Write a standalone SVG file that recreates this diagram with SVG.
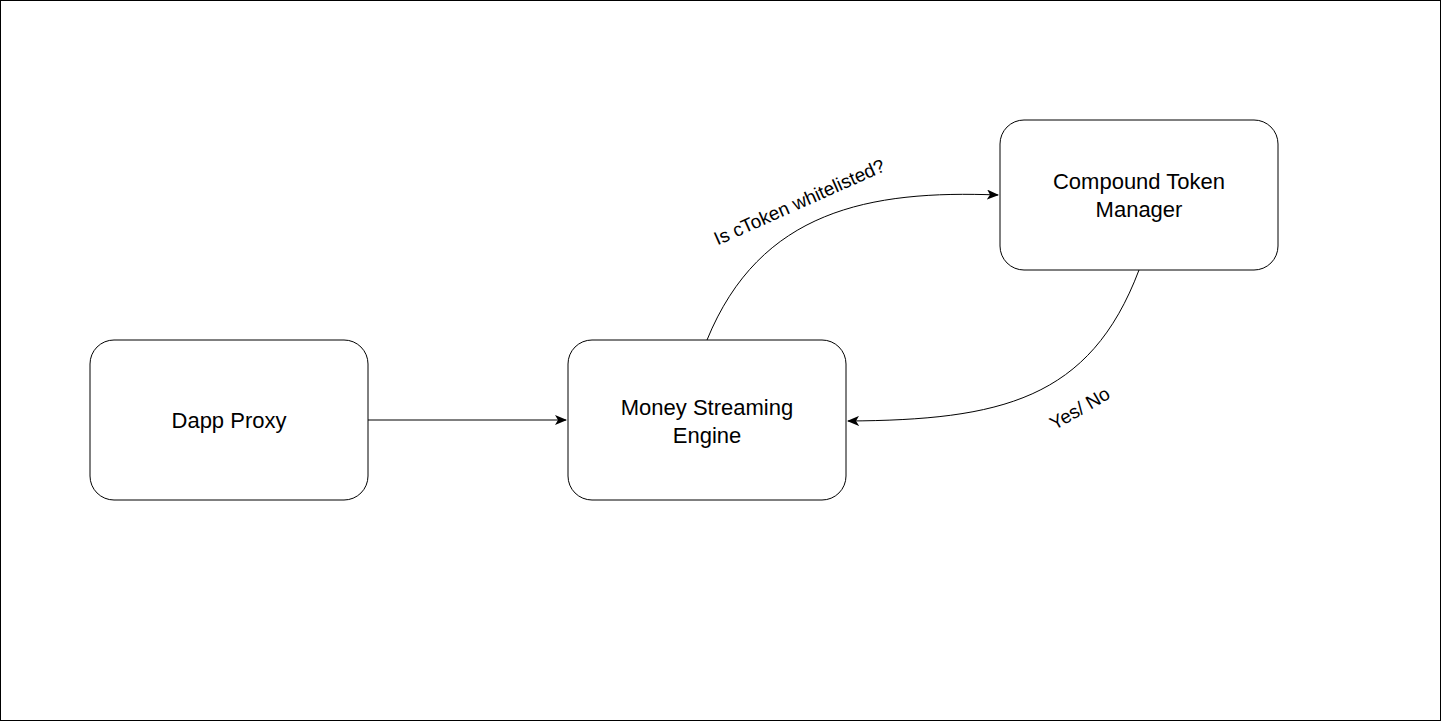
<svg xmlns="http://www.w3.org/2000/svg" width="1441" height="721" viewBox="0 0 1441 721">
<style>
.n{fill:#fff;stroke:#000;stroke-width:1}
.t{font-family:"Liberation Sans",Arial,sans-serif;font-size:22px;fill:#000;text-anchor:middle}
.l{font-family:"Liberation Sans",Arial,sans-serif;font-size:19px;fill:#000;text-anchor:middle}
.c{fill:none;stroke:#000;stroke-width:1}
</style>
<defs><marker id="a" markerWidth="12" markerHeight="10" refX="11" refY="5" orient="auto" markerUnits="userSpaceOnUse"><path d="M0,0 L12,5 L0,10 L3,5 Z" fill="#000"/></marker></defs>
<rect x="0.5" y="0.5" width="1440" height="720" fill="#fff" stroke="#000"/>
<g id="dapp"><rect class="n" x="90" y="340" width="278" height="160" rx="24"/><text class="t" x="229" y="428">Dapp Proxy</text></g>
<g id="mse"><rect class="n" x="568" y="340" width="278" height="160" rx="24"/><text class="t" x="707" y="415">Money Streaming</text><text class="t" x="707" y="443">Engine</text></g>
<g id="ctm"><rect class="n" x="1000" y="120" width="278" height="150" rx="24"/><text class="t" x="1139" y="189">Compound Token</text><text class="t" x="1139" y="217">Manager</text></g>
<g id="connectors">
<path class="c" d="M707,340 C760,210 870,190 998,195" marker-end="url(#a)"/>
<path class="c" d="M368,420 L566,420" marker-end="url(#a)"/>
<path class="c" d="M1139,270 C1090,400 1000,420 848,421" marker-end="url(#a)"/>
<text class="l" transform="translate(802,208) rotate(-24)">Is cToken whitelisted?</text>
<text class="l" transform="translate(1083,414) rotate(-30)">Yes/ No</text>
</g>
</svg>
